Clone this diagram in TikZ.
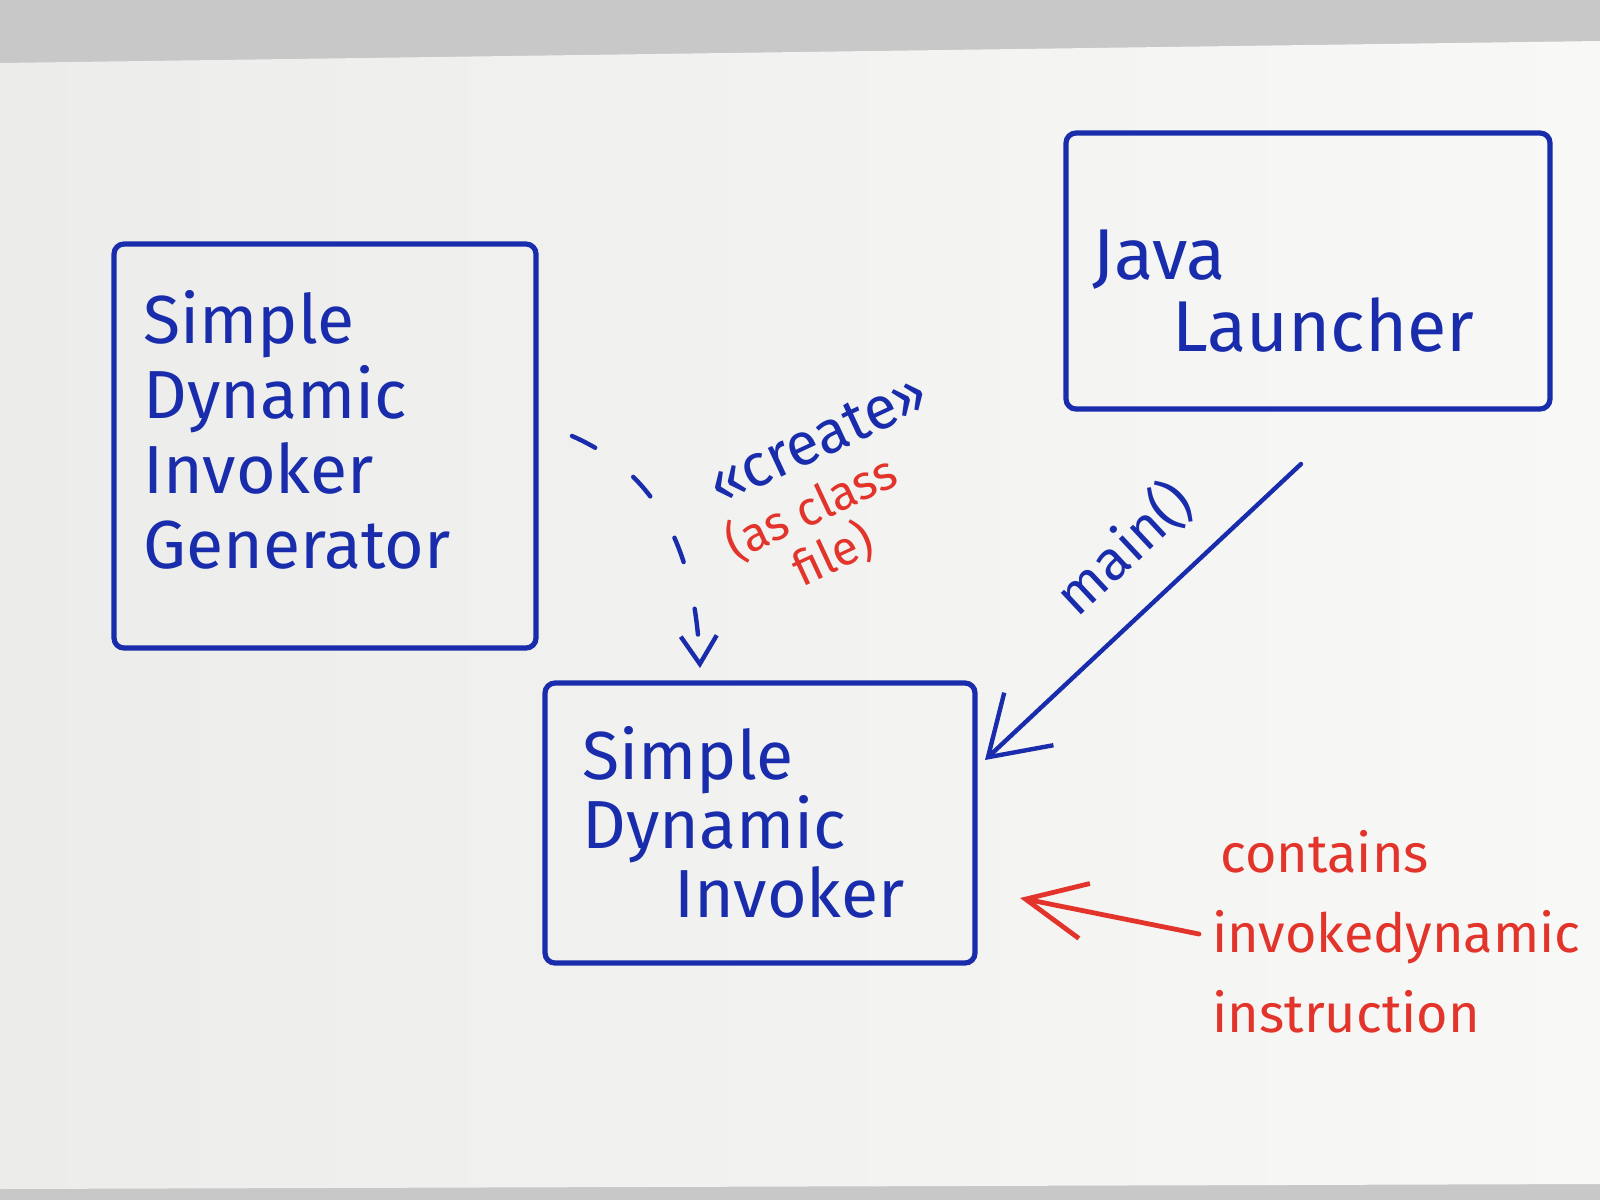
\documentclass[tikz,border=0pt]{standalone}
\usepackage{fontspec}
\setmainfont{Fira Sans}
\usetikzlibrary{arrows.meta,calc}
\definecolor{ink}{RGB}{24,44,172}
\definecolor{redink}{RGB}{226,52,42}
\definecolor{paper}{RGB}{248,248,247}
\definecolor{paperdark}{RGB}{236,236,235}
\definecolor{desk}{RGB}{200,200,200}
\begin{document}
\begin{tikzpicture}[x=0.5pt,y=-0.5pt,
  box/.style={draw=ink, line width=2.6pt, rounded corners=5pt, inner sep=0pt},
  bluetext/.style={text=ink, font=\fontsize{34}{37.5}\selectfont, align=left, inner sep=0pt},
  redtext/.style={text=redink, font=\fontsize{27}{40}\selectfont, align=left, inner sep=0pt},
  conn/.style={ink, line width=2.2pt, line cap=round, line join=round},
  redconn/.style={redink, line width=2.4pt, line cap=round, line join=round}]
\useasboundingbox (0,0) rectangle (1600,1200);
% desk and paper
\fill[desk] (0,0) rectangle (1600,1200);
\shade[left color=paperdark, right color=paper] (0,63) -- (1600,41) -- (1600,1184) -- (0,1189) -- cycle;

% boxes
\node[box, minimum width=211pt, minimum height=202pt] (gen) at (325,446) {};
\node[box, minimum width=242pt, minimum height=138pt] (jl) at (1308,271) {};
\node[box, minimum width=215pt, minimum height=140pt] (inv) at (760,823) {};

% box texts
\node[bluetext, anchor=west] (gentext) at (143,430) {Simple\\Dynamic\\Invoker\\Generator};
\node[bluetext, anchor=west, font=\fontsize{36}{36}\selectfont] (jltext) at (1092,291) {Java\\\hspace*{40pt}Launcher};
\node[bluetext, anchor=west, font=\fontsize{34}{34.5}\selectfont] (invtext) at (582,822) {Simple\\Dynamic\\\hspace*{46pt}Invoker};

% create dashed arrow
\coordinate (cs) at (572,436);
\coordinate (ce) at (700,668);
\draw[conn, dash pattern=on 13pt off 24pt, -{Straight Barb[length=14pt,width=18pt]}]
  (cs) .. controls (650,470) and (695,540) .. (ce);
\node[text=ink, font=\fontsize{30}{30}\selectfont, rotate=25, inner sep=0pt] (create) at (818,439) {«create»};
\node[text=redink, font=\fontsize{24}{26}\selectfont, rotate=25, align=center, inner sep=0pt] (asclass) at (822,531) {(as class\\file)};

% main() arrow
\coordinate (ms) at (1301,464);
\coordinate (me) at (985,760);
\draw[conn, -{Straight Barb[length=28pt,width=36pt]}] (ms) -- (me);
\node[text=ink, font=\fontsize{28}{28}\selectfont, rotate=43, inner sep=0pt] (mainlbl) at (1124,548) {main()};

% red note
\coordinate (rs) at (1199,934);
\coordinate (re) at (1020,898);
\draw[redconn, -{Straight Barb[length=30pt,width=28pt]}] (rs) -- (re);
\node[redtext, anchor=west] (note) at (1212,932) {\hspace*{4pt}contains\\invokedynamic\\instruction};
\end{tikzpicture}
\end{document}
